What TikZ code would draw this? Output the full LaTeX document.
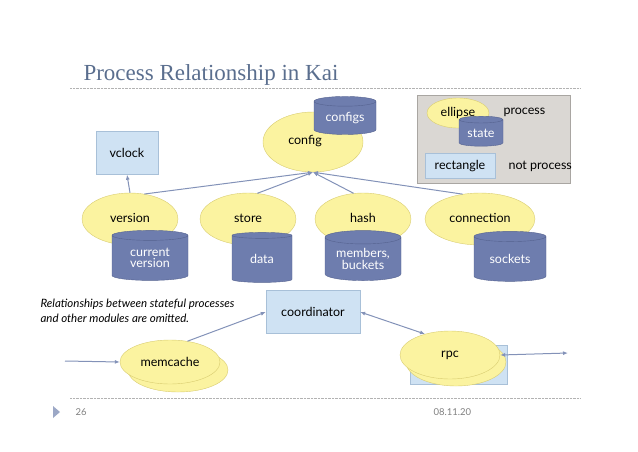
\documentclass[tikz,border=0pt]{standalone}
\usepackage{fontspec}
\setmainfont{Lato}
\newfontfamily\titlefont{Liberation Serif}
\usetikzlibrary{shapes.geometric,arrows.meta}
\definecolor{yel}{HTML}{FBF3A0}
\definecolor{yelb}{HTML}{D8CC70}
\definecolor{cyl}{HTML}{6E7DAE}
\definecolor{cylb}{HTML}{55628F}
\definecolor{rec}{HTML}{CFE2F3}
\definecolor{recb}{HTML}{A8C0D8}
\definecolor{arr}{HTML}{8392B8}
\definecolor{leg}{HTML}{DAD7D3}
\definecolor{legb}{HTML}{A9A6A2}
\definecolor{ttl}{HTML}{5A6E8E}
\begin{document}
\begin{tikzpicture}[x=1pt,y=-1pt,
  proc/.style={ellipse,draw=yelb,fill=yel,inner sep=0pt,font=\fontsize{12.5}{13}\selectfont},
  st/.style={cylinder,shape border rotate=90,aspect=0.25,draw=cylb,fill=cyl,text=white,inner sep=0pt,font=\fontsize{12.5}{13}\selectfont,align=center},
  np/.style={rectangle,draw=recb,fill=rec,inner sep=0pt,font=\fontsize{12.5}{13}\selectfont},
  ar/.style={draw=arr,line width=1pt,-{Latex[length=5pt,width=4pt]}},
  arb/.style={draw=arr,line width=1pt,{Latex[length=5pt,width=4pt]}-{Latex[length=5pt,width=4pt]}},
  lab/.style={font=\fontsize{12.5}{13}\selectfont}]
\useasboundingbox (0,0) rectangle (638,451);
\node[anchor=base west,text=ttl,font=\titlefont\fontsize{23}{24}\selectfont] (title) at (80,80) {Process Relationship in Kai};
\draw[densely dotted,gray!60] (70,88) -- (580,88);
% legend
\node[draw=legb,fill=leg,minimum width=153,minimum height=88,inner sep=0pt] (legend) at (493.5,139) {};
\node[proc,minimum width=62,minimum height=30] (lell) at (458,113) {ellipse};
\node[st,minimum width=44,minimum height=30] (lst) at (481,133) {state};
\node[lab,anchor=west] (lproc) at (500,112) {process};
\node[np,minimum width=70,minimum height=25] (lrec) at (460,166) {rectangle};
\node[lab,anchor=west] (lnp) at (505,166) {not process};
% config
\node[proc,minimum width=100,minimum height=60] (config) at (313,142) {};
\node[lab] (configt) at (305,141) {config};
\node[st,minimum width=62,minimum height=38] (configs) at (345,118) {configs};
% vclock
\node[np,minimum width=62,minimum height=43] (vclock) at (127,153) {vclock};
% processes
\node[proc,minimum width=96,minimum height=52] (version) at (130,219) {};
\node[lab] at (130,218) {version};
\node[proc,minimum width=96,minimum height=52] (store) at (248,219) {};
\node[lab] at (248,218) {store};
\node[proc,minimum width=96,minimum height=52] (hash) at (363,219) {};
\node[lab] at (363,218) {hash};
\node[proc,minimum width=110,minimum height=52] (conn) at (480,219) {};
\node[lab] at (480,218) {connection};
\node[st,minimum width=76,minimum height=50] (cv) at (150,258) {current\\[-2pt]version};
\node[st,minimum width=60,minimum height=50] (data) at (262,259) {data};
\node[st,minimum width=76,minimum height=50] (mb) at (363,259) {members,\\[-1pt]buckets};
\node[st,minimum width=72,minimum height=50] (sock) at (510,259) {sockets};
\draw[ar] (version.north) -- (vclock.south);
\draw[ar] (version.60) -- (config.south);
\draw[ar] (store.70) -- (config.south);
\draw[ar] (hash.110) -- (config.south);
\draw[ar] (conn.125) -- (config.south);
% coordinator
\node[np,minimum width=94,minimum height=43] (coord) at (313,312) {coordinator};
\node[anchor=west,align=left,font=\itshape\fontsize{11.5}{15}\selectfont] (note) at (37,311) {Relationships between stateful processes\\and other modules are omitted.};
% memcache
\node[proc,minimum width=100,minimum height=44] (memsh) at (178,370) {};
\node[proc,minimum width=100,minimum height=44] (mem) at (170,362) {memcache};
\coordinate (inl) at (65,361);
\draw[ar] (inl) -- (mem.west);
\draw[ar] (mem.50) -- (coord.west);
% rpc
\node[np,minimum width=97,minimum height=39] (rpcbox) at (459,365) {};
\node[proc,minimum width=100,minimum height=48] (rpcsh) at (456,362) {};
\node[proc,minimum width=100,minimum height=48] (rpc) at (450,355) {rpc};
\draw[arb] (coord.east) -- (rpc.140);
\coordinate (outr) at (568,353);
\draw[arb] (rpc.east) -- (outr);
% footer
\draw[densely dotted,gray!60] (70,398) -- (580,398);
\fill[arr!80] (53,406) -- (60,412) -- (53,418) -- cycle;
\node[anchor=west,text=gray,font=\fontsize{9.5}{10}\selectfont] (pg) at (72,412) {26};
\node[anchor=west,text=gray,font=\fontsize{9.5}{10}\selectfont] (dt) at (430,412) {08.11.20};
\end{tikzpicture}
\end{document}
